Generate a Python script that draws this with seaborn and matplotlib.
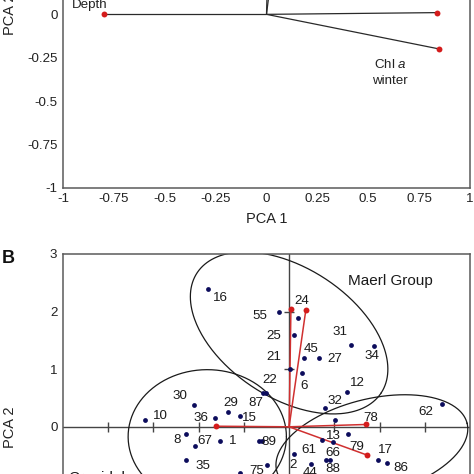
import numpy as np
import pandas as pd
import matplotlib
matplotlib.use("Agg")
import matplotlib.pyplot as plt
import seaborn as sns

sns.set_theme(style="white")
plt.rcParams["font.family"] = ["Liberation Sans", "DejaVu Sans"]
plt.rcParams["mathtext.fontset"] = "custom"
plt.rcParams["mathtext.rm"] = "Liberation Sans"
plt.rcParams["mathtext.it"] = "Liberation Sans:italic"

# ---- panel A : variable loadings ----
loadA_x = [-0.80, 0.84, 0.85, 0.02, 0.09]
loadA_y = [0.00, 0.01, -0.20, 0.85, 0.85]
loadA_names = ["Depth", "", "Chl $a$\nwinter", "", ""]
tickA = [-1, -0.75, -0.5, -0.25, 0, 0.25, 0.5, 0.75, 1]
tickA_lab = ["-1", "-0.75", "-0.5", "-0.25", "0", "0.25", "0.5", "0.75", "1"]

# ---- panel B : site scores ----
site_names = ["16", "55", "24", "25", "45", "27", "21", "6", "31", "34", "12", "32",
              "22", "87", "30", "29", "36", "15", "10", "62", "", "", "", "13",
              "61", "66", "88", "17", "86", "44", "8", "67", "1", "89", "", "35",
              "75", "", "2"]
site_x = [-1.80, -0.23, 0.19, 0.10, 0.32, 0.66, 0.02, 0.28, 1.37, 1.88, 1.28, 0.80,
          -0.58, -0.52, -2.11, -1.36, -1.64, -1.08, -3.18, 3.37, 1.02, 1.31, 0.72, 0.98,
          0.10, 0.82, 0.91, 1.96, 2.16, 0.48, -2.29, -2.08, -1.52, -0.60, -0.66, -2.28,
          -0.49, -1.08, 0.12]
site_y = [2.40, 2.00, 1.89, 1.60, 1.20, 1.20, 1.00, 0.94, 1.42, 1.41, 0.60, 0.32,
          0.58, 0.58, 0.38, 0.26, 0.15, 0.19, 0.12, 0.39, 0.12, -0.13, -0.23, -0.26,
          -0.47, -0.57, -0.58, -0.57, -0.62, -0.64, -0.13, -0.33, -0.24, -0.25, -0.25, -0.57,
          -0.66, -0.81, -0.90]

vecB_x = [0.04, 0.37, -1.61, 1.69, 1.72]
vecB_y = [2.04, 2.03, 0.01, 0.04, -0.49]
vecB_names = ["", "", "", "78", "79"]

# group outlines (centre, half axes in x units, tilt in degrees)
grp_cx = [0.0, -1.81, 1.83]
grp_cy = [1.63, -0.17, -0.35]
grp_a = [2.43, 1.75, 2.17]
grp_b = [1.44, 1.48, 1.06]
grp_ang = [-33, 0, 14]

# label offsets in pixels (right, up)
lab_off = {"16": (13, -9), "55": (-19, -4), "24": (4, 17), "25": (-20, -1), "45": (8, 9),
           "27": (16, -1), "21": (-16, 12), "6": (2, -13), "31": (-11, 13), "34": (-2, -10),
           "12": (10, 9), "32": (10, 7), "22": (7, 13), "87": (-10, -10), "30": (-14, 9),
           "29": (3, 9), "36": (-14, 0), "15": (9, -2), "10": (15, 4), "62": (-16, -8),
           "13": (0, 6), "61": (15, 4), "66": (7, 7), "88": (3, -9), "17": (8, 10),
           "86": (14, -5), "44": (-1, -9), "8": (-8, -6), "67": (10, 5), "1": (12, 0),
           "89": (7, -1), "35": (17, -6), "75": (-10, -6), "2": (-1, 14),
           "78": (5, 6), "79": (-10, 8)}

navy = "#0c0c5c"
red = "#d41c1c"
frame = "#5a5a5a"
W = 474

fig = plt.figure(figsize=(4.74, 4.74), dpi=100)
axA = fig.add_axes([63 / W, (W - 187.7) / W, 407 / W, 346.7 / W])
axB = fig.add_axes([63 / W, (W - 599.6) / W, 407 / W, 345.6 / W])

for ax in (axA, axB):
    for s in ax.spines.values():
        s.set_color(frame)
        s.set_linewidth(1.1)
    ax.tick_params(length=0, labelsize=9.6, colors="#222222", pad=4)
    ax.grid(False)

# ---------- panel A ----------
for x, y in zip(loadA_x, loadA_y):
    axA.plot([0, x], [0, y], color="#2a2a2a", lw=0.9, zorder=2)
dfA = pd.DataFrame({"x": loadA_x, "y": loadA_y})
sns.scatterplot(data=dfA, x="x", y="y", ax=axA, color=red, s=18, linewidth=0, zorder=3)
axA.annotate(loadA_names[0], (loadA_x[0], loadA_y[0]), xytext=(-14, 9),
             textcoords="offset pixels", ha="center", va="center", fontsize=9.6, color="#222222")
axA.text(0.607, -0.335, loadA_names[2], ha="center", va="center", fontsize=9.6,
         color="#222222", linespacing=1.45)
axA.set_xlim(-1, 1)
axA.set_ylim(-1, 1)
axA.set_xticks(tickA, tickA_lab)
axA.set_yticks(tickA, tickA_lab)
axA.set_xlabel("PCA 1", fontsize=10.5, color="#222222", labelpad=5)
axA.set_ylabel("PCA 2", fontsize=10.5, color="#222222")
axA.yaxis.set_label_coords(-0.112, 0.5)

# ---------- panel B ----------
xlimB = (-5, 4)
ylimB = (-3, 3)
axB.set_xlim(*xlimB)
axB.set_ylim(*ylimB)
k = (345.6 / (ylimB[1] - ylimB[0])) / (407 / (xlimB[1] - xlimB[0]))

axB.axhline(0, color="#444444", lw=1.0, zorder=1)
axB.axvline(0, color="#444444", lw=1.0, zorder=1)
xt = [v for v in range(xlimB[0] + 1, xlimB[1]) if v != 0]
yt = [v for v in range(ylimB[0] + 1, ylimB[1]) if v != 0]
axB.plot(xt, [0] * len(xt), ls="none", marker="|", ms=6.5, mew=1.0, color="#444444", zorder=1)
axB.plot([0] * len(yt), yt, ls="none", marker="_", ms=6.5, mew=1.0, color="#444444", zorder=1)

t = np.linspace(0, 2 * np.pi, 300)
for cx, cy, a, b, ang in zip(grp_cx, grp_cy, grp_a, grp_b, grp_ang):
    th = np.deg2rad(ang)
    u = a * np.cos(t)
    v = b * np.sin(t)
    ex = cx + u * np.cos(th) - v * np.sin(th)
    ey = cy + (u * np.sin(th) + v * np.cos(th)) / k
    axB.plot(ex, ey, color="#1a1a1a", lw=0.9, zorder=2)

for x, y in zip(vecB_x, vecB_y):
    axB.plot([0, x], [0, y], color="#d03030", lw=1.1, zorder=3)

dfB = pd.DataFrame({"x": site_x, "y": site_y})
sns.scatterplot(data=dfB, x="x", y="y", ax=axB, color=navy, s=12, linewidth=0, zorder=4)
dfV = pd.DataFrame({"x": vecB_x, "y": vecB_y})
sns.scatterplot(data=dfV, x="x", y="y", ax=axB, color=red, s=18, linewidth=0, zorder=5)

for name, x, y in list(zip(site_names, site_x, site_y)) + list(zip(vecB_names, vecB_x, vecB_y)):
    if not name:
        continue
    dx, dy = lab_off[name]
    axB.annotate(name, (x, y), xytext=(dx, dy), textcoords="offset pixels",
                 ha="center", va="center", fontsize=9.6, color="#1a1a1a", zorder=6)

axB.text(1.31, 2.47, "Maerl Group", fontsize=11, color="#1a1a1a", va="baseline", ha="left")
axB.text(-4.88, -0.96, "Crepidula", fontsize=11, color="#1a1a1a", va="baseline", ha="left")

axB.set_xticks([])
axB.set_yticks([-3, -2, -1, 0, 1, 2, 3], ["-3", "-2", "-1", "0", "1", "2", "3"])
axB.set_xlabel("")
axB.set_ylabel("PCA 2", fontsize=10.5, color="#222222")
axB.yaxis.set_label_coords(-0.112, 0.5)

fig.text(1.5 / W, (W - 263) / W, "B", fontsize=13, fontweight="bold", color="#111111",
         ha="left", va="baseline")

fig.savefig("out.png", dpi=100)
